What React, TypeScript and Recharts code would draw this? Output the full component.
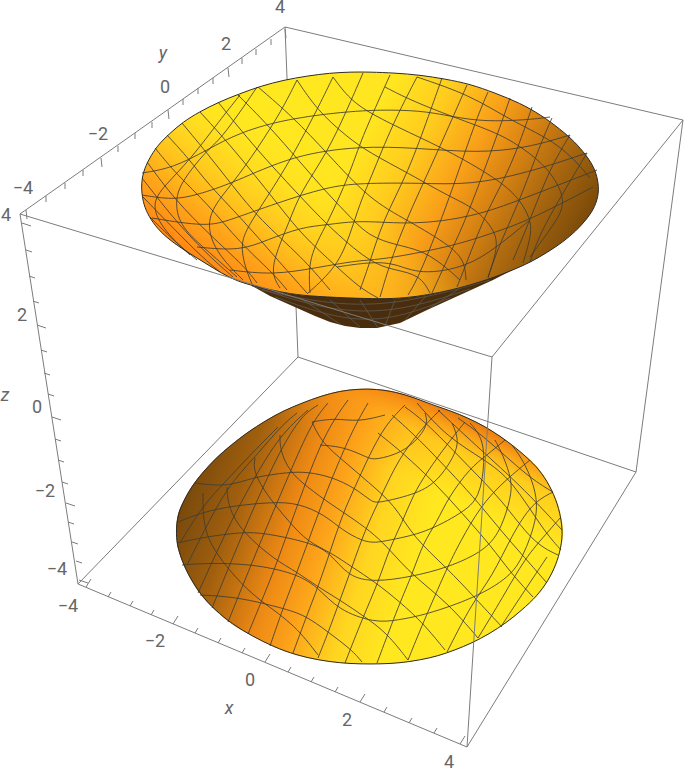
import { ScatterChart, Scatter, XAxis, YAxis, ReferenceDot } from 'recharts';

type Pt = [number, number];

const W = 685;
const H = 769;

const bowlUnder: Pt[] = [[247,283],[270,296],[297,308],[315,316],[330,322],[345,326],[360,328],[377,328],[400,323],[427,310],[460,295],[493,280],[520,266],[547,252],[480,270],[380,290],[300,285]];
const bowlRim: Pt[] = [[141,187],[143,172],[149,159],[157,146],[169,134],[183,122],[199,112],[219,102],[239,94],[261,86],[284,80],[307,76],[330,73],[350,72],[370,72],[395,73],[420,75],[445,79],[470,84],[495,93],[520,103],[541,115],[560,129],[575,142],[586,155],[594,167],[598,180],[599,193],[595,207],[587,219],[576,231],[563,242],[548,252],[531,262],[513,270],[495,277],[477,283],[452,290],[427,295],[405,298],[382,299],[347,298],[307,296],[285,293],[263,288],[246,284],[230,278],[213,268],[197,258],[181,248],[167,238],[155,226],[147,213],[143,202]];
const domeRim: Pt[] = [[176,530],[178,514],[184,500],[192,486],[203,472],[216,458],[231,445],[248,432],[265,421],[283,411],[302,403],[321,396],[340,391],[358,389],[376,389],[396,392],[415,398],[433,405],[451,411],[468,418],[484,426],[500,436],[516,448],[530,460],[542,473],[552,490],[559,508],[563,530],[561,548],[556,565],[548,581],[537,596],[522,610],[506,623],[489,634],[472,643],[455,650],[438,656],[420,660],[400,663],[380,664],[360,664],[340,663],[318,660],[296,655],[274,647],[252,636],[232,624],[215,610],[201,595],[190,578],[182,561],[177,545]];

const bowlRows: Pt[][] = [
  [[142,173],[173,168],[207,150],[240,132],[290,118],[360,110],[403,110],[432,112],[477,122],[527,120],[550,117]],
  [[142,195],[173,200],[197,195],[233,183],[293,155],[360,146],[417,148],[477,153],[527,148],[570,135]],
  [[152,218],[207,227],[230,220],[277,203],[327,187],[360,183],[420,183],[470,185],[527,173],[587,153]],
  [[197,247],[240,251],[267,240],[302,227],[327,225],[360,220],[413,225],[473,217],[520,200],[597,170]],
  [[230,270],[273,275],[315,268],[360,260],[380,260],[450,247],[493,233],[530,220],[593,187]],
  [[337,267],[370,262],[395,263],[420,275],[467,267],[497,247],[530,220]],
];
const bowlFallLines: Pt[][] = [
  [[240,95],[220,120],[190,160],[165,185],[150,205],[165,232],[190,255]],
  [[257,87],[245,105],[220,140],[207,150],[180,183],[175,203],[180,227],[210,253],[237,277]],
  [[297,80],[282,110],[258,148],[233,183],[210,210],[208,233],[220,257],[243,280]],
  [[333,77],[317,110],[293,155],[275,185],[250,223],[240,243],[245,267],[252,284]],
  [[363,73],[347,110],[327,153],[300,193],[290,220],[273,260],[273,277],[280,288]],
  [[390,75],[373,113],[360,143],[350,173],[327,225],[308,257],[310,293]],
  [[417,77],[393,123],[370,180],[360,203],[350,235],[337,267],[307,294]],
  [[442,78],[430,112],[408,173],[383,220],[370,262],[360,290]],
  [[467,85],[453,117],[428,173],[397,240],[380,297]],
  [[488,92],[475,122],[450,197],[420,275],[408,295]],
  [[510,98],[498,133],[467,217],[453,247],[432,293]],
  [[532,107],[518,148],[503,182],[485,215],[465,267],[457,287]],
  [[552,118],[540,145],[520,200],[497,250],[488,278]],
  [[570,135],[550,168],[530,220],[513,260]],
  [[587,153],[563,193],[540,233],[530,262]],
];
const bowlCrossLines: Pt[][] = [
  [[150,217],[173,240],[197,260]],
  [[143,197],[175,230],[203,258],[220,272]],
  [[142,178],[177,223],[210,257],[233,277]],
  [[147,162],[175,200],[210,235],[245,267],[257,283]],
  [[155,148],[177,175],[207,203],[240,243],[273,273],[287,290]],
  [[167,135],[190,160],[207,183],[243,220],[275,257],[307,293]],
  [[182,123],[207,153],[232,185],[260,220],[302,257],[330,290]],
  [[200,112],[233,148],[277,203],[302,235],[337,267],[360,288],[378,298]],
  [[218,102],[257,150],[297,193],[327,225],[370,263],[395,270],[420,275],[430,293]],
  [[238,95],[273,130],[315,180],[350,217],[370,237],[397,245],[420,250],[440,262],[460,280]],
  [[258,87],[293,117],[327,153],[370,200],[407,220],[453,247],[465,263],[466,280]],
  [[297,80],[317,110],[347,137],[370,153],[408,173],[450,197],[475,208],[495,230],[498,248],[488,277]],
  [[333,77],[350,100],[373,115],[408,132],[453,153],[502,182],[520,200],[530,218],[532,233],[523,263]],
  [[385,87],[410,100],[453,117],[498,133],[523,148],[548,168],[563,193],[563,210],[552,227],[530,257]],
  [[417,77],[470,95],[510,120],[552,140],[575,160],[590,178]],
];
const bowlUnderLines: Pt[][] = [
  [[252,286],[330,312],[400,312],[470,289]],
  [[275,297],[345,322],[400,318],[450,298]],
  [[262,290],[330,305],[400,305],[490,280]],
  [[300,298],[340,324]],
  [[330,300],[360,327]],
  [[360,300],[378,328]],
  [[395,300],[385,326]],
  [[425,297],[405,320]],
  [[460,288],[430,308]],
];

const domeRows: Pt[][] = [
  [[312,422],[335,418],[358,422],[385,415]],
  [[320,445],[345,447],[368,458],[375,460],[402,453],[420,437],[428,423],[425,413]],
  [[195,483],[228,487],[253,477],[290,472],[308,472],[332,477],[355,488],[372,502],[378,503],[413,495],[437,483],[457,452],[458,437],[452,423]],
  [[178,522],[203,512],[232,506],[272,502],[298,503],[325,515],[342,530],[362,541],[375,543],[390,540],[425,533],[462,513],[480,498],[485,460],[482,437],[470,423]],
  [[177,543],[205,537],[242,532],[265,533],[308,542],[330,552],[348,577],[375,582],[410,577],[447,568],[487,550],[502,527],[511,497],[512,480],[503,455],[495,440]],
  [[182,565],[208,563],[252,564],[295,573],[318,587],[338,610],[375,623],[398,620],[425,615],[475,598],[510,577],[523,557],[537,520],[537,493],[525,463],[512,445]],
  [[200,595],[238,597],[282,608],[305,615],[328,632],[352,650],[362,662]],
];
const domeRiseLines: Pt[][] = [
  [[180,543],[203,505],[227,480],[253,452],[278,427]],
  [[187,565],[203,533],[227,487],[255,457],[282,425],[297,413]],
  [[198,593],[228,527],[253,480],[280,435],[308,410]],
  [[212,608],[242,535],[255,505],[280,450],[302,415],[318,405]],
  [[228,622],[257,550],[290,472],[312,422],[328,403]],
  [[248,634],[262,600],[277,563],[298,503],[320,445],[335,418],[348,400]],
  [[270,646],[283,608],[297,572],[308,542],[325,495],[345,447],[357,422],[368,403]],
  [[293,653],[307,615],[318,587],[330,552],[343,513],[355,487],[368,458],[385,425],[405,405]],
  [[318,658],[328,633],[340,600],[352,567],[365,530],[378,503],[390,477],[403,453],[423,427],[440,410]],
  [[345,663],[363,617],[378,583],[390,547],[402,523],[413,495],[427,472],[448,443],[465,422]],
  [[377,663],[400,602],[412,575],[423,543],[437,522],[448,498],[470,468],[487,455],[505,440]],
  [[408,660],[423,623],[447,568],[460,542],[480,507],[502,483],[530,460]],
  [[447,652],[472,603],[492,577],[512,535],[532,503],[553,492]],
  [[478,638],[503,597],[525,558],[547,533],[560,518]],
  [[502,625],[525,590],[547,557]],
];
const domeFallLines: Pt[][] = [
  [[203,493],[203,527],[215,553],[242,585],[262,602],[295,625],[318,655]],
  [[227,487],[228,507],[242,532],[275,560],[297,572],[318,587],[340,600],[365,617],[387,633],[408,660]],
  [[255,458],[253,470],[265,493],[290,523],[308,542],[330,552],[352,567],[375,582],[400,602],[423,623],[445,650]],
  [[280,435],[280,450],[289,471],[307,487],[332,505],[355,520],[375,535],[390,550],[412,575],[448,603],[478,638]],
  [[312,422],[322,443],[345,462],[368,482],[395,505],[413,537],[447,568],[475,598],[502,627]],
  [[378,433],[403,453],[435,483],[462,513],[492,547],[510,572],[533,597]],
  [[392,415],[417,437],[458,480],[482,507],[502,532],[525,558],[547,583]],
  [[405,407],[427,423],[470,468],[502,500],[533,543],[558,555]],
  [[417,403],[447,437],[485,460],[512,480],[543,530],[561,550]],
  [[438,410],[470,440],[512,478],[537,503],[562,530]],
  [[458,418],[485,437],[528,477],[553,492]],
];

const boxBack: Pt[][] = [
  [[285,27],[298,357]],
  [[285,27],[20,214]],
  [[285,27],[683,120]],
  [[78,584],[298,357]],
  [[298,357],[636,472]],
  [[683,120],[636,472]],
  [[467,747],[636,472]],
];
const boxFront: Pt[][] = [
  [[20,214],[492,357]],
  [[683,120],[492,357]],
  [[492,357],[467,747]],
  [[20,214],[78,584]],
  [[78,584],[467,747]],
];

const xTickBase: Pt[] = [[86,587],[108,597],[130,606],[151,615],[173,624],[195,633],[218,643],[242,653],[265,662],[288,672],[311,682],[335,692],[360,702],[384,712],[409,723],[434,733],[460,744]];
const yTickBase: Pt[] = [[26,210],[46,196],[65,183],[83,170],[101,158],[118,146],[135,133],[152,122],[168,110],[183,99],[198,88],[213,78],[228,68],[242,58],[256,49],[271,39],[285,29]];
const zTickBase: Pt[] = [[22,223],[26,250],[29,276],[33,301],[37,325],[41,350],[44,373],[48,394],[52,417],[55,439],[58,460],[62,482],[66,503],[68,522],[72,542],[76,561],[79,580]];

const tickLabels: { x: number; y: number; text: string }[] = [
  { x: 68, y: 606, text: '\u22124' }, { x: 155, y: 641, text: '\u22122' }, { x: 250, y: 680, text: '0' }, { x: 347, y: 720, text: '2' }, { x: 449, y: 762, text: '4' },
  { x: 23, y: 188, text: '\u22124' }, { x: 98, y: 134, text: '\u22122' }, { x: 165, y: 87, text: '0' }, { x: 226, y: 44, text: '2' }, { x: 280, y: 7, text: '4' },
  { x: 6, y: 215, text: '4' }, { x: 22, y: 315, text: '2' }, { x: 37, y: 407, text: '0' }, { x: 45, y: 491, text: '\u22122' }, { x: 57, y: 569, text: '\u22124' },
];
const axisLetters: { x: number; y: number; text: string }[] = [
  { x: 229, y: 708, text: 'x' }, { x: 163, y: 53, text: 'y' }, { x: 5, y: 395, text: 'z' },
];

const GRID = '#3f3d33';
const BOX = '#7c7c7c';
const FONT = 'Roboto, "Open Sans", sans-serif';

const toData = (pts: Pt[]) => pts.map(([x, y]) => ({ x, y }));

const ticks = (base: Pt[], major: Pt, minor: Pt): Pt[][] =>
  base.map(([x, y], i) => {
    const d = i % 4 === 0 ? major : minor;
    return [[x, y], [x + d[0], y + d[1]]];
  });

const noDot = () => <g />;

function polyline(key: string, pts: Pt[], stroke: string, width: number, type = 'basis', opacity = 1) {
  return (
    <Scatter
      key={key}
      data={toData(pts)}
      isAnimationActive={false}
      shape={noDot}
      line={{ stroke, strokeWidth: width, strokeOpacity: opacity }}
      lineJointType={type as 'basis'}
    />
  );
}

function region(key: string, pts: Pt[], fill: string, type = 'basisClosed') {
  return (
    <Scatter
      key={key}
      data={toData(pts)}
      isAnimationActive={false}
      shape={noDot}
      line={{ stroke: 'none', fill }}
      lineJointType={type as 'basisClosed'}
    />
  );
}

export default function App() {
  return (
    <div style={{ position: 'absolute', left: 0, top: 0, width: W, height: H, background: '#fff' }}>
      <ScatterChart width={W} height={H} margin={{ top: 0, right: 0, bottom: 0, left: 0 }}>
        <defs>
          <linearGradient id="bowlMain" gradientUnits="userSpaceOnUse" x1={270} y1={130} x2={590} y2={320}>
            <stop offset="0" stopColor="#ffe820" />
            <stop offset="0.22" stopColor="#ffe620" />
            <stop offset="0.36" stopColor="#ffcc1e" />
            <stop offset="0.5" stopColor="#f99f19" />
            <stop offset="0.6" stopColor="#d98413" />
            <stop offset="0.72" stopColor="#a9670f" />
            <stop offset="0.85" stopColor="#7d4c0a" />
            <stop offset="1" stopColor="#6e430a" />
          </linearGradient>
          <linearGradient id="bowlLeft" gradientUnits="userSpaceOnUse" x1={175} y1={255} x2={270} y2={130}>
            <stop offset="0" stopColor="#ff7f14" stopOpacity={1} />
            <stop offset="0.3" stopColor="#ff9a18" stopOpacity={0.85} />
            <stop offset="0.6" stopColor="#ffbf1e" stopOpacity={0.6} />
            <stop offset="1" stopColor="#ffe020" stopOpacity={0} />
          </linearGradient>
          <linearGradient id="domeMain" gradientUnits="userSpaceOnUse" x1={170} y1={500} x2={470} y2={600}>
            <stop offset="0" stopColor="#6f440c" />
            <stop offset="0.2" stopColor="#a05f0e" />
            <stop offset="0.38" stopColor="#ec8814" />
            <stop offset="0.5" stopColor="#fda31a" />
            <stop offset="0.65" stopColor="#ffd520" />
            <stop offset="0.8" stopColor="#ffe820" />
            <stop offset="1" stopColor="#ffe820" />
          </linearGradient>
          <linearGradient id="domeTop" gradientUnits="userSpaceOnUse" x1={430} y1={490} x2={470} y2={405}>
            <stop offset="0" stopColor="#ff9a18" stopOpacity={0} />
            <stop offset="0.5" stopColor="#ff9a18" stopOpacity={0.35} />
            <stop offset="0.8" stopColor="#f07d12" stopOpacity={0.9} />
            <stop offset="1" stopColor="#b9680e" stopOpacity={1} />
          </linearGradient>
        </defs>
        <XAxis type="number" dataKey="x" domain={[0, W]} hide allowDataOverflow />
        <YAxis type="number" dataKey="y" domain={[0, H]} reversed hide allowDataOverflow />

        {boxBack.map((l, i) => polyline(`back${i}`, l, BOX, 1, 'linear'))}
        {ticks(yTickBase, [1, 9], [0, 6]).map((l, i) => polyline(`yt${i}`, l, BOX, 1, 'linear'))}

        {region('domeFill', domeRim, 'url(#domeMain)', 'natural')}
        {region('domeFillTop', domeRim, 'url(#domeTop)', 'natural')}
        {domeRows.map((l, i) => polyline(`dr${i}`, l, GRID, 1, 'basis', 0.85))}
        {domeRiseLines.map((l, i) => polyline(`drl${i}`, l, GRID, 1, 'basis', 0.85))}
        {domeFallLines.map((l, i) => polyline(`dfl${i}`, l, GRID, 1, 'basis', 0.85))}
        {polyline('domeEdge', domeRim, '#2e2c24', 1, 'basisClosed')}

        {region('bowlBelow', bowlUnder, '#4a2d0c', 'linearClosed')}
        {bowlUnderLines.map((l, i) => polyline(`bu${i}`, l, '#5c5a55', 1, 'basis', 0.8))}
        {region('bowlFill', bowlRim, 'url(#bowlMain)')}
        {region('bowlFillLeft', bowlRim, 'url(#bowlLeft)')}
        {bowlRows.map((l, i) => polyline(`br${i}`, l, GRID, 1, 'basis', 0.85))}
        {bowlFallLines.map((l, i) => polyline(`bfl${i}`, l, GRID, 1, 'basis', 0.85))}
        {bowlCrossLines.map((l, i) => polyline(`bcl${i}`, l, GRID, 1, 'basis', 0.85))}
        {polyline('bowlEdge', bowlRim, '#2e2c24', 1, 'basisClosed')}

        {boxFront.map((l, i) => polyline(`front${i}`, l, BOX, 1, 'linear'))}
        {ticks(xTickBase, [5, -8], [3, -5]).map((l, i) => polyline(`xt${i}`, l, BOX, 1, 'linear'))}
        {ticks(zTickBase, [9, 3], [6, 2]).map((l, i) => polyline(`zt${i}`, l, BOX, 1, 'linear'))}

        {tickLabels.map((t, i) => (
          <ReferenceDot
            key={`tl${i}`}
            x={t.x}
            y={t.y}
            r={0}
            stroke="none"
            fill="none"
            label={{ value: t.text, position: 'center', fill: '#666666', fontSize: 18, fontFamily: FONT }}
          />
        ))}
        {axisLetters.map((t, i) => (
          <ReferenceDot
            key={`al${i}`}
            x={t.x}
            y={t.y}
            r={0}
            stroke="none"
            fill="none"
            label={{ value: t.text, position: 'center', fill: '#666666', fontSize: 18, fontStyle: 'italic', fontFamily: FONT }}
          />
        ))}
      </ScatterChart>
    </div>
  );
}
